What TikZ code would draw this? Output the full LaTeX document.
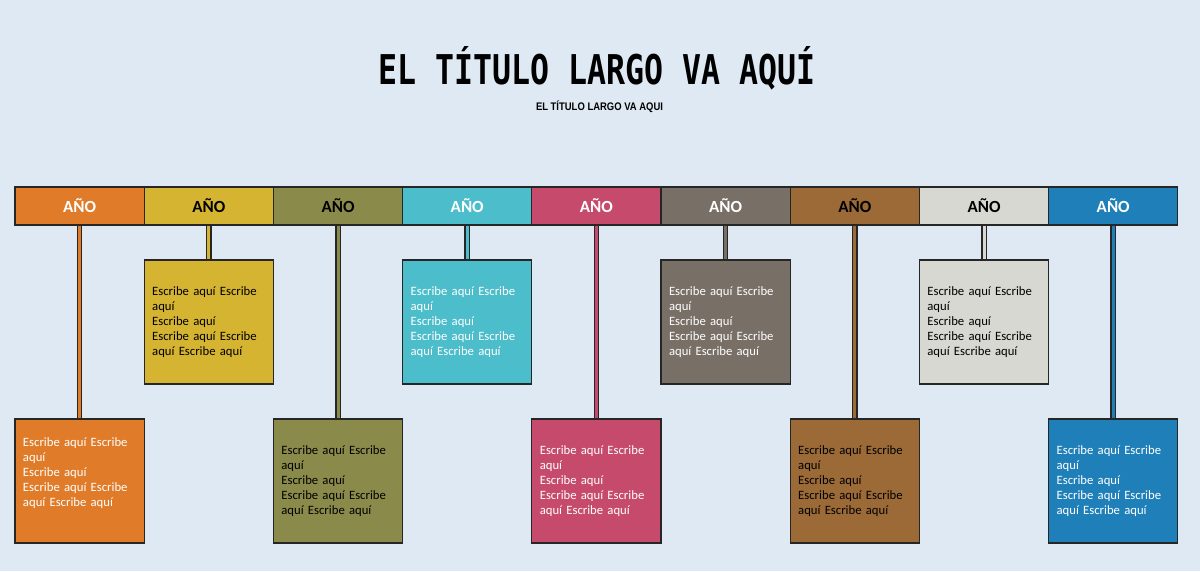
\documentclass[tikz,border=0pt]{standalone}
\usepackage{fontspec}
\setmainfont{Carlito}
\newfontfamily\titlefont{DejaVu Sans Mono}
\newfontfamily\subfont{Liberation Sans}
\usepackage{tikz}
\usetikzlibrary{positioning}
\definecolor{bgblue}{HTML}{DEE9F3}
\definecolor{edgegray}{HTML}{262626}
\definecolor{anoorange}{HTML}{E07B2A}
\definecolor{anoyellow}{HTML}{D5B431}
\definecolor{anoolive}{HTML}{8A8A4B}
\definecolor{anocyan}{HTML}{4CBDCA}
\definecolor{anopink}{HTML}{C64A6B}
\definecolor{anogray}{HTML}{786F67}
\definecolor{anobrown}{HTML}{9B6A37}
\definecolor{anobeige}{HTML}{D8D8D2}
\definecolor{anoblue}{HTML}{1F7FB8}
\newcommand{\boxtext}{Escribe aquí Escribe\\aquí\\Escribe aquí\\Escribe aquí Escribe\\aquí Escribe aquí}

\begin{document}
\begin{tikzpicture}[x=1pt,y=-1pt,
    year node/.style={rectangle,draw=edgegray,line width=1.2pt,minimum width=129.2pt,minimum height=38pt,inner sep=0pt,font=\fontsize{17}{20}\selectfont\bfseries},
    text box/.style={rectangle,draw=edgegray,line width=1.2pt,minimum height=124pt,text width=113.2pt,inner xsep=8pt,inner ysep=0pt,align=left,font=\fontsize{12.7}{15}\selectfont},
    stem/.style={line width=5.5pt,edgegray}]
   \fill[bgblue] (0,0) rectangle (1200,571);
   \node[anchor=base] (title) at (597,84) {\scalebox{0.77}[1]{\fontsize{41}{44}\titlefont\bfseries EL TÍTULO LARGO VA AQUÍ}};
   \node[anchor=base] (sub) at (599.5,110) {\scalebox{0.86}[1]{\fontsize{11}{13}\subfont\bfseries EL TÍTULO LARGO VA AQUI}};
   % year bar
   \node[year node,fill=anoorange,text=white] (h1) at (79.6,206) {AÑO};
   \node[year node,fill=anoyellow,text=black] (h2) at (208.8,206) {AÑO};
   \node[year node,fill=anoolive,text=black] (h3) at (338.0,206) {AÑO};
   \node[year node,fill=anocyan,text=white] (h4) at (467.2,206) {AÑO};
   \node[year node,fill=anopink,text=white] (h5) at (596.4,206) {AÑO};
   \node[year node,fill=anogray,text=white] (h6) at (725.6,206) {AÑO};
   \node[year node,fill=anobrown,text=black] (h7) at (854.8,206) {AÑO};
   \node[year node,fill=anobeige,text=black] (h8) at (984.0,206) {AÑO};
   \node[year node,fill=anoblue,text=white] (h9) at (1113.2,206) {AÑO};
   % boxes
   \node[text box,fill=anoorange,text=white] (b1) at (79.6,481) {\boxtext\\[3pt]\mbox{}};
   \node[text box,fill=anoyellow,text=black] (b2) at (208.8,322) {\boxtext};
   \node[text box,fill=anoolive,text=black] (b3) at (338.0,481) {\boxtext};
   \node[text box,fill=anocyan,text=white] (b4) at (467.2,322) {\boxtext};
   \node[text box,fill=anopink,text=white] (b5) at (596.4,481) {\boxtext};
   \node[text box,fill=anogray,text=white] (b6) at (725.6,322) {\boxtext};
   \node[text box,fill=anobrown,text=black] (b7) at (854.8,481) {\boxtext};
   \node[text box,fill=anobeige,text=black] (b8) at (984.0,322) {\boxtext};
   \node[text box,fill=anoblue,text=white] (b9) at (1113.2,481) {\boxtext};
   % stems
   \path[stem] (h1.south) edge (b1.north);
   \path[stem] (h2.south) edge (b2.north);
   \path[stem] (h3.south) edge (b3.north);
   \path[stem] (h4.south) edge (b4.north);
   \path[stem] (h5.south) edge (b5.north);
   \path[stem] (h6.south) edge (b6.north);
   \path[stem] (h7.south) edge (b7.north);
   \path[stem] (h8.south) edge (b8.north);
   \path[stem] (h9.south) edge (b9.north);
   \path[line width=3pt,anoorange] (h1.south) edge (b1.north);
   \path[line width=3pt,anoyellow] (h2.south) edge (b2.north);
   \path[line width=3pt,anoolive] (h3.south) edge (b3.north);
   \path[line width=3pt,anocyan] (h4.south) edge (b4.north);
   \path[line width=3pt,anopink] (h5.south) edge (b5.north);
   \path[line width=3pt,anogray] (h6.south) edge (b6.north);
   \path[line width=3pt,anobrown] (h7.south) edge (b7.north);
   \path[line width=3pt,anobeige] (h8.south) edge (b8.north);
   \path[line width=3pt,anoblue] (h9.south) edge (b9.north);
\end{tikzpicture}
\end{document}
